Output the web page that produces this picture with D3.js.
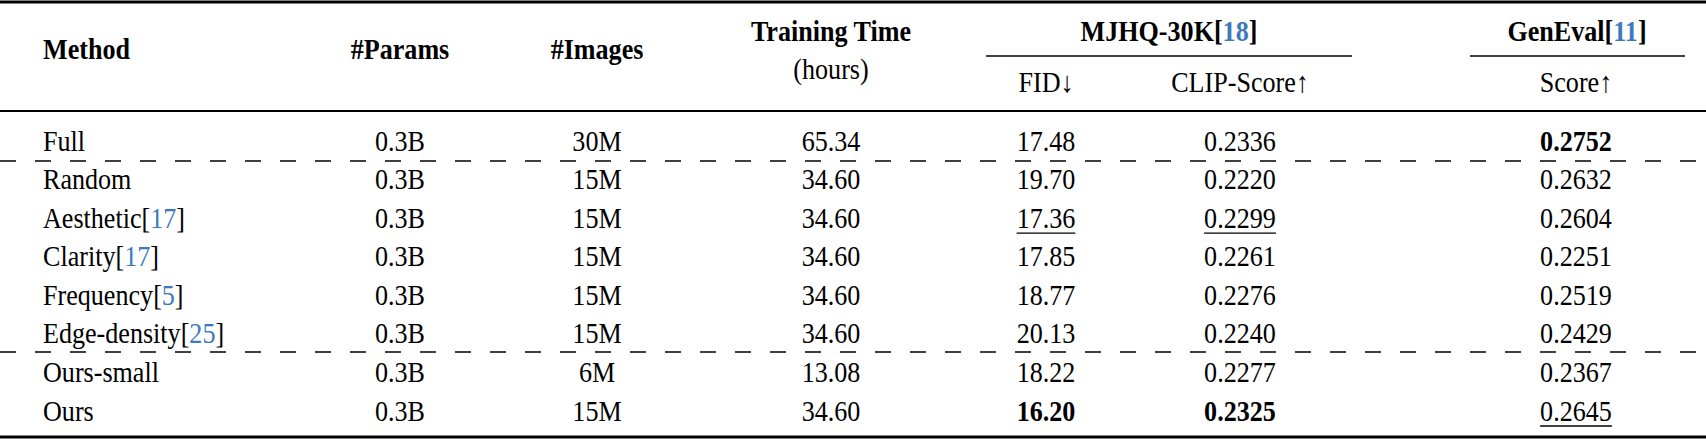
<!DOCTYPE html><html><head><meta charset="utf-8">
<script src="https://cdn.jsdelivr.net/npm/d3@7"></script>
<style>body{margin:0;background:#fff} text{font-family:"Liberation Serif","Times New Roman",Times,serif}</style></head><body><svg id="c" width="1706" height="439"></svg>
<script>
const methods=["Full","Random","Aesthetic","Clarity","Frequency","Edge-density","Ours-small","Ours"];
const refs=["","","17","17","5","25","",""];
const params=["0.3B","0.3B","0.3B","0.3B","0.3B","0.3B","0.3B","0.3B"];
const images=["30M","15M","15M","15M","15M","15M","6M","15M"];
const hours=["65.34","34.60","34.60","34.60","34.60","34.60","13.08","34.60"];
const fid=["17.48","19.70","17.36","17.85","18.77","20.13","18.22","16.20"];
const clip=["0.2336","0.2220","0.2299","0.2261","0.2276","0.2240","0.2277","0.2325"];
const geneval=["0.2752","0.2632","0.2604","0.2251","0.2519","0.2429","0.2367","0.2645"];
const fidStyle=["","","u","","","","","b"];
const clipStyle=["","","u","","","","","b"];
const genStyle=["b","","","","","","","u"];

const svg=d3.select("#c");
const FS=29, SX=0.9, BLUE="#3a7abd";
const y=d3.scalePoint().domain(d3.range(methods.length)).range([140,410]);
const colX={params:400,images:597,hours:831,fid:1046,clip:1240,gen:1576};
function txt(x,yy,anchor,parts,bold){
  const g=svg.append("g").attr("transform",`translate(${x},${yy}) scale(${SX},1)`);
  const t=g.append("text").attr("text-anchor",anchor).attr("dominant-baseline","central")
    .attr("font-size",FS).attr("font-weight",bold?"bold":"normal").attr("fill","#000");
  parts.forEach(p=>t.append("tspan").text(p.t).attr("fill",p.c||"#000"));
  return {g,t};
}
txt(43,48,"start",[{t:"Method"}],true);
txt(colX.params,48,"middle",[{t:"#Params"}],true);
txt(colX.images,48,"middle",[{t:"#Images"}],true);
txt(colX.hours,30,"middle",[{t:"Training Time"}],true);
txt(colX.hours,68,"middle",[{t:"(hours)"}]);
txt(1169,30,"middle",[{t:"MJHQ-30K["},{t:"18",c:BLUE},{t:"]"}],true);
txt(1577,30,"middle",[{t:"GenEval["},{t:"11",c:BLUE},{t:"]"}],true);
txt(colX.fid,81,"middle",[{t:"FID↓"}]);
txt(colX.clip,81,"middle",[{t:"CLIP-Score↑"}]);
txt(colX.gen,81,"middle",[{t:"Score↑"}]);
const line=(x1,x2,yy,w,dash)=>svg.append("line").attr("x1",x1).attr("x2",x2).attr("y1",yy).attr("y2",yy)
  .attr("stroke","#000").attr("stroke-width",w).attr("stroke-dasharray",dash||null);
line(0,1706,2,3);
line(986,1352,56,1.3);
line(1470,1685,56,1.3);
line(0,1706,111,2);
line(0,1706,161,1.5,"16,19");
line(0,1706,352,1.5,"16,19");
line(0,1706,437,3);
methods.forEach((m,i)=>{
  const yy=y(i);
  const parts=[{t:m}]; if(refs[i]) parts.push({t:"["},{t:refs[i],c:BLUE},{t:"]"});
  txt(43,yy,"start",parts);
  txt(colX.params,yy,"middle",[{t:params[i]}]);
  txt(colX.images,yy,"middle",[{t:images[i]}]);
  txt(colX.hours,yy,"middle",[{t:hours[i]}]);
  [[colX.fid,fid[i],fidStyle[i]],[colX.clip,clip[i],clipStyle[i]],[colX.gen,geneval[i],genStyle[i]]].forEach(([x,v,s])=>{
    const o=txt(x,yy,"middle",[{t:v}],s==="b");
    if(s==="u"){const bb=o.t.node().getBBox();
      o.g.append("line").attr("x1",bb.x).attr("x2",bb.x+bb.width).attr("y1",16).attr("y2",16)
       .attr("stroke","#000").attr("stroke-width",1.3);}
  });
});
</script></body></html>
